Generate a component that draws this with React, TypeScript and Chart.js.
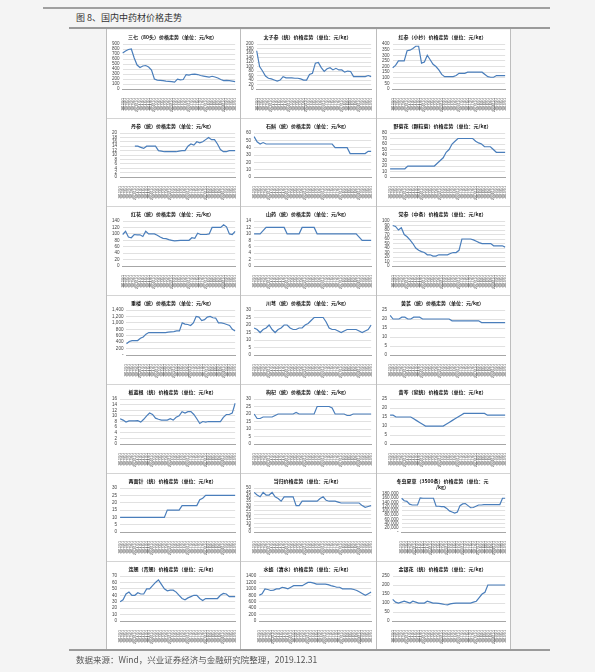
import React, { useEffect, useRef } from "react";
import { Chart, registerables } from "chart.js";
Chart.register(...registerables);

const dates = [
  "2013/1/1","2013/3/1","2013/5/1","2013/7/1","2013/9/1","2013/11/1",
  "2014/1/1","2014/3/1","2014/5/1","2014/7/1","2014/9/1","2014/11/1",
  "2015/1/1","2015/3/1","2015/5/1","2015/7/1","2015/9/1","2015/11/1",
  "2016/1/1","2016/3/1","2016/5/1","2016/7/1","2016/9/1","2016/11/1",
  "2017/1/1","2017/3/1","2017/5/1","2017/7/1","2017/9/1","2017/11/1",
  "2018/1/1","2018/3/1","2018/5/1","2018/7/1","2018/9/1","2018/11/1",
  "2019/1/1","2019/3/1","2019/5/1","2019/7/1",
];

const sanqi = [720,760,790,800,620,480,430,460,470,440,380,200,180,175,170,160,155,150,140,200,185,190,290,280,295,300,290,270,260,250,240,255,240,220,190,170,175,170,160,150];
const taizishen = [170,100,80,58,48,45,40,35,40,55,50,50,50,48,48,45,40,40,65,70,115,118,95,78,90,95,85,92,85,85,75,80,78,55,55,55,55,55,60,55];
const hongshen = [190,210,250,250,250,340,345,360,380,380,230,240,300,260,220,200,170,130,110,110,110,110,120,140,140,140,150,150,150,150,150,150,130,110,105,105,120,120,120,120];
const danshen = [null,null,null,null,null,14,14,13.5,13,14,14,14,14,12,11.8,11.5,11.5,11.5,11.5,11.5,11.8,12,12,14,15,14.5,16,15.5,16,17,18,17,17,15,12.5,11.5,11.5,12,12,12];
const shihu = [55,48,45,47,45,45,45,45,45,45,45,45,45,45,45,45,45,45,45,45,45,45,45,45,45,45,45,40,40,40,40,40,32,32,32,32,32,32,35,35];
const yejuhua = [15,15,15,15,15,15,20,20,20,20,20,20,20,20,20,20,25,30,35,45,50,60,65,70,70,70,70,70,70,65,62,60,55,55,55,50,45,45,45,45];
const honghua = [98,108,90,88,98,97,97,92,108,100,100,100,96,90,86,85,82,80,78,79,80,80,80,80,88,86,102,98,98,98,100,120,120,120,120,128,122,100,98,108];
const shanyao = [10,10,10,11,12,12,12,12,12,12,12,10,10,10,10,10,12,12,12,12,12,10,10,10,10,10,10,10,10,10,10,10,10,10,10,9,8,8,8,8];
const dangshen = [90,88,80,85,70,65,58,50,40,35,32,30,25,25,22,22,25,25,25,25,28,30,30,35,60,60,60,60,58,55,52,50,50,50,50,45,45,45,45,42];
const chonglou = [350,420,450,450,450,520,560,650,700,700,700,700,700,700,700,710,720,730,750,750,1000,960,950,920,1000,1200,1180,1070,1100,1180,1200,1160,1150,1000,1000,980,950,920,800,750];
const chuanxiong = [18,17,15,17,18,20,17,15,17,18,20,20,18,17,17,18,18,20,21,23,25,25,25,25,22,18,17,17,16,15,16,17,17,17,17,16,15,16,17,20];
const huangqi = [22,20,20,20,21,21,20,20,21,21,21,20,20,20,20,20,20,20,20,20,20,19,19,19,19,19,19,19,19,19,19,18,18,18,18,18,18,18,18,18];
const banlangen = [9,8.5,7.8,8.2,8.2,8.2,8.3,7.8,8.8,10,11,10.5,9.2,8.8,8.5,8.5,8.5,9,8.5,9.5,10,11.5,11,11.5,11.5,10.5,9,7.3,8,7.8,8,8,8,8,8,9.5,10.5,10.5,11,14.5];
const gouqi = [20,17,17,18,18,18,18,19,20,20,20,20,20,20,21,20,20,20,20,20,20,25,25,25,25,25,24,20,20,20,20,19,19,20,20,20,20,20,20,20];
const huangqin = [16,16,15,15,15,15,15,15,14,13,12,11,10,10,10,10,10,10,10,11,12,13,14,15,16,17,17,17,17,17,17,17,17,16,16,16,16,16,16,16];
const liangmianzhen = [10,10,10,10,10,10,10,10,10,10,10,10,10,10,10,10,15,15,15,15,15,18,18,18,18,18,18,22,23,25,25,25,25,25,25,25,25,25,25,25];
const danggui = [45,42,40,45,42,42,45,40,38,35,40,40,40,40,30,30,35,35,35,35,35,35,38,40,36,35,35,35,34,33,33,33,33,33,33,33,30,28,29,30];
const chongcao = [160000,148000,145000,132000,128000,128000,128000,162000,160000,160000,160000,160000,160000,122000,122000,120000,120000,112000,100000,95000,90000,95000,125000,133000,135000,125000,115000,116000,122000,128000,128000,130000,130000,130000,130000,130000,130000,130000,160000,160000];
const lianqiao = [30,33,42,45,40,40,44,42,42,50,50,55,60,64,57,50,47,48,48,45,40,35,33,36,38,40,40,35,32,35,35,35,35,35,40,43,42,38,38,38];
const shuizhi = [800,850,1000,980,950,960,1000,1000,1050,1030,1000,1050,1100,1100,1100,1100,1150,1200,1200,1180,1150,1150,1150,1150,1130,1100,1080,1050,1050,1000,1000,1000,1000,980,950,900,850,800,850,900];
const jinyinhua = [120,105,100,105,110,105,100,110,105,100,100,100,110,105,100,100,98,95,92,90,95,98,100,100,100,100,100,100,105,110,130,150,160,200,200,200,200,200,200,200];

const panels = [
  { title: "三七（80头）价格走势（单位：元/kg）", data: sanqi, max: 900, step: 100 },
  { title: "太子参（统）价格走势（单位：元/kg）", data: taizishen, max: 200, step: 20 },
  { title: "红参（小抄）价格走势（单位：元/kg）", data: hongshen, max: 400, step: 50 },
  { title: "丹参（统）价格走势（单位：元/kg）", data: danshen, max: 20, step: 2 },
  { title: "石斛（统）价格走势（单位：元/kg）", data: shihu, max: 60, step: 10 },
  { title: "野菊花（颗粒菊）价格走势（单位：元/kg）", data: yejuhua, max: 80, step: 10 },
  { title: "红花（统）价格走势（单位：元/kg）", data: honghua, max: 140, step: 20 },
  { title: "山药（统）价格走势（单位：元/kg）", data: shanyao, max: 14, step: 2 },
  { title: "党参（中条）价格走势（单位：元/kg）", data: dangshen, max: 100, step: 10 },
  { title: "重楼（统）价格走势（单位：元/kg）", data: chonglou, max: 1400, step: 200, comma: true },
  { title: "川芎（统）价格走势（单位：元/kg）", data: chuanxiong, max: 30, step: 5 },
  { title: "黄芪（统）价格走势（单位：元/kg）", data: huangqi, max: 25, step: 5 },
  { title: "板蓝根（统）价格走势（单位：元/kg）", data: banlangen, max: 16, step: 2 },
  { title: "枸杞（统）价格走势（单位：元/kg）", data: gouqi, max: 30, step: 5 },
  { title: "黄芩（家统）价格走势（单位：元/kg）", data: huangqin, max: 25, step: 5 },
  { title: "两面针（统）价格走势（单位：元/kg）", data: liangmianzhen, max: 30, step: 5 },
  { title: "当归价格走势（单位：元/kg）", data: danggui, max: 50, step: 5 },
  { title: ["冬虫夏草（3500条）价格走势（单位：元", "/kg）"], data: chongcao, max: 180000, step: 20000, comma: true },
  { title: "连翘（青翘）价格走势（单位：元/kg）", data: lianqiao, max: 70, step: 10 },
  { title: "水蛭（清水）价格走势（单位：元/kg）", data: shuizhi, max: 1400, step: 200 },
  { title: "金银花（统）价格走势（单位：元/kg）", data: jinyinhua, max: 250, step: 50 },
];

const FONT = "'Noto Sans CJK SC', 'Liberation Sans', sans-serif";
const NUMFONT = "'Liberation Sans', Arial, sans-serif";
const colX = [106, 240, 376, 510];
const gridTop = 29;
const gridBottom = 650;
const rowH = (gridBottom - gridTop) / 7;

function Panel({ cfg, left, top, width, height }: any) {
  const ref = useRef<HTMLCanvasElement | null>(null);
  useEffect(() => {
    const chart = new Chart(ref.current as HTMLCanvasElement, {
      type: "line",
      data: {
        labels: dates,
        datasets: [
          {
            data: cfg.data,
            borderColor: "#4A7EBB",
            borderWidth: 1.2,
            pointRadius: 0,
            tension: 0,
            fill: false,
            spanGaps: false,
          },
        ],
      },
      options: {
        responsive: false,
        animation: false,
        layout: { padding: { left: 2, right: 4, top: 0, bottom: 5 } },
        plugins: {
          legend: { display: false },
          tooltip: { enabled: false },
          title: {
            display: true,
            text: cfg.title,
            color: "#111",
            font: { family: FONT, size: 5, weight: "bold", lineHeight: 1.2 },
            padding: { top: 4, bottom: 4 },
          },
        },
        scales: {
          x: {
            ticks: {
              autoSkip: false,
              minRotation: 90,
              maxRotation: 90,
              color: "#444",
              padding: 1,
              font: { family: NUMFONT, size: 3.2 },
            },
            grid: { display: false },
            border: { color: "#a6a6a6", width: 1 },
          },
          y: {
            min: 0,
            max: cfg.max,
            ticks: {
              stepSize: cfg.step,
              autoSkip: false,
              color: "#444",
              padding: 3,
              font: { family: NUMFONT, size: 4.6 },
              callback: (v: any) =>
                cfg.comma ? (v === 0 ? "-" : Number(v).toLocaleString("en-US")) : String(v),
            },
            grid: { color: "#d9d9d9", lineWidth: 0.8, drawTicks: false },
            border: { display: false },
          },
        },
      },
    });
    return () => chart.destroy();
  }, []);
  return (
    <canvas
      ref={ref}
      width={width}
      height={height}
      style={{ position: "absolute", left, top, width, height, background: "#fff" }}
    />
  );
}

export default function App() {
  const cells: any[] = [];
  panels.forEach((p, i) => {
    const r = Math.floor(i / 3);
    const c = i % 3;
    const left = colX[c] + 1;
    const right = colX[c + 1];
    const top = Math.round(gridTop + r * rowH) + 1;
    const bottom = Math.round(gridTop + (r + 1) * rowH);
    cells.push(
      <Panel key={i} cfg={p} left={left} top={top} width={right - left} height={bottom - top} />
    );
  });
  const hLines: any[] = [];
  for (let r = 1; r < 7; r++) {
    hLines.push(
      <div
        key={"h" + r}
        style={{
          position: "absolute",
          left: colX[0],
          top: Math.round(gridTop + r * rowH),
          width: colX[3] - colX[0],
          height: 1,
          background: "#d4d4d4",
        }}
      />
    );
  }
  return (
    <div
      style={{
        position: "absolute",
        left: 0,
        top: 0,
        width: 595,
        height: 672,
        background: "#f4f4f4",
        overflow: "hidden",
        fontFamily: FONT,
      }}
    >
      <div style={{ position: "absolute", left: 43, top: 7, width: 507, height: 2, background: "#a0a0a0" }} />
      <div style={{ position: "absolute", left: 76, top: 11, fontSize: 9, color: "#333", whiteSpace: "nowrap" }}>
        图 8、国内中药材价格走势
      </div>
      <div style={{ position: "absolute", left: 69, top: 27, width: 481, height: 2, background: "#9a9a9a" }} />
      {cells}
      {hLines}
      {colX.map((x, i) => (
        <div key={"v" + i} style={{ position: "absolute", left: x, top: gridTop, width: 1, height: gridBottom - gridTop, background: "#bdbdbd" }} />
      ))}
      <div style={{ position: "absolute", left: 69, top: 649, width: 481, height: 2, background: "#9a9a9a" }} />
      <div style={{ position: "absolute", left: 76, top: 653, fontSize: 8.5, color: "#555", whiteSpace: "nowrap" }}>
        数据来源：Wind，兴业证券经济与金融研究院整理，2019.12.31
      </div>
    </div>
  );
}
